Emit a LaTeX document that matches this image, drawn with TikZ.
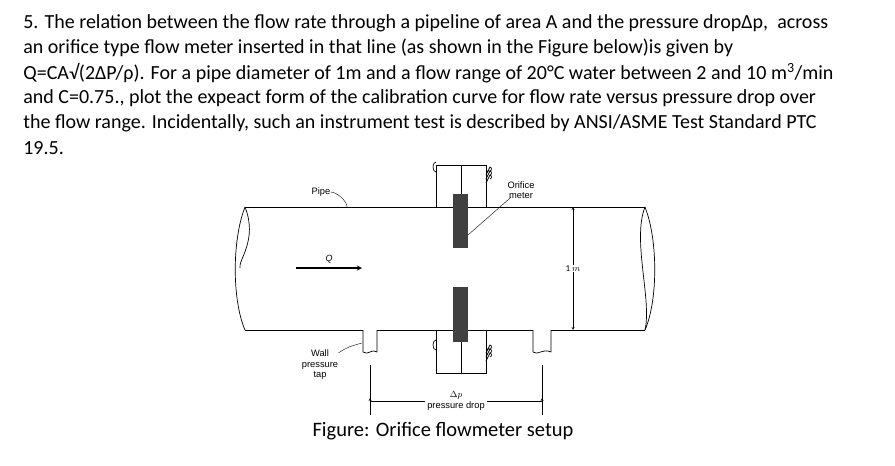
\documentclass[tikz,border=0pt]{standalone}
\usepackage{fontspec}
\setmainfont{Carlito}
\newfontfamily\lbl{Liberation Sans}
\usetikzlibrary{positioning}
\tikzset{
  para/.style={anchor=west,inner sep=0pt,font=\fontsize{20}{22}\selectfont},
  tag/.style={inner sep=0pt,font=\lbl\fontsize{9.3}{10.5}\selectfont,align=center},
  dim/.style={thin,<->,>=stealth},
}
\begin{document}
\begin{tikzpicture}[x=1pt,y=-1pt,line width=0.7pt]
\useasboundingbox (0,0) rectangle (895,466);
% problem text
\node[para] (l1) at (23,23) {5. The relation between the flow rate through a pipeline of area A and the pressure dropΔp,\ \ across};
\node[para] (l2) at (23,48) {an orifice type flow meter inserted in that line (as shown in the Figure below)is given by};
\node[para] (l3) at (23,73) {Q=CA√(2ΔP/ρ). For a pipe diameter of 1m and a flow range of 20°C water between 2 and 10 m\textsuperscript{3}/min};
\node[para] (l4) at (23,98) {and C=0.75., plot the expeact form of the calibration curve for flow rate versus pressure drop over};
\node[para] (l5) at (23,123) {the flow range. Incidentally, such an instrument test is described by ANSI/ASME Test Standard PTC};
\node[para] (l6) at (23,148) {19.5.};

% pipe
\draw (245,207) -- (436,207) (486,207) -- (645,207);
\draw (245,330) -- (363,330) (377,330) -- (436,330) (486,330) -- (533,330) (551,330) -- (645,330);
% broken ends
\draw (245,207) .. controls (232,240) and (232,300) .. (245,330);
\draw (245,207) .. controls (258,240) and (238,260) .. (240,268);
\draw (645,207) .. controls (632,240) and (652,300) .. (645,330);
\draw (645,207) .. controls (658,240) and (658,300) .. (645,330);
% flanges
\draw (436,165) rectangle (486,207) (461,165) -- (461,207);
\draw (436,330) rectangle (486,373) (461,330) -- (461,373);
\foreach \y in {177,355}{
  \draw (436,\y-5) arc (90:270:3 and 5);
  \draw (486,\y-6) -- (490,\y-6) arc (90:-90:1.5 and 2) -- (486,\y-2)
        (490,\y-2) arc (90:-90:1.5 and 2) -- (486,\y+2)
        (490,\y+2) arc (90:-90:1.5 and 2) -- (486,\y+6);
}
% orifice plates
\fill[black!75] (453,194) rectangle (468,248);
\fill[black!75] (453,287) rectangle (468,342);
% taps
\draw (363,330) -- (363,352) .. controls (368,356) and (372,348) .. (377,352) -- (377,330);
\draw (533,330) -- (533,352) .. controls (538,356) and (542,348) .. (551,352) -- (551,330);

% flow arrow
\coordinate (qa) at (296,268);
\coordinate (qb) at (362,268);
\draw[->,>=stealth,line width=1.3pt] (qa) -- (qb);
\node[tag,font=\itshape\lbl\fontsize{9}{10}\selectfont] (q) at (329,259) {Q};

% labels
\node[tag] (pipe) at (321,192) {Pipe};
\coordinate (pipept) at (347,207);
\draw[thin] (pipe.east) .. controls +(6,0) and +(0,-6) .. (pipept);
\node[tag] (orifice) at (521,190) {Orifice\\meter};
\coordinate (platept) at (468,235);
\draw[thin] (orifice.south west) ++(4,-2) -- (platept);
\node[tag] (wall) at (320,365) {Wall\\pressure\\tap};
\coordinate (tappt) at (362,343);
\draw[thin] (wall.north east) ++(0,3) .. controls +(10,-6) .. (tappt);

% dimension 1 m
\coordinate (mt) at (573,207);
\coordinate (mb) at (573,330);
\draw[dim] (mt) -- node[fill=white,inner sep=1pt,font=\fontsize{9}{10}\selectfont] (dia) {1 $m$} (mb);

% pressure drop dimension
\draw[thin] (370,365) -- (370,415) (542,365) -- (542,415);
\coordinate (pl) at (370,398);
\coordinate (pr) at (542,398);
\node[tag] (dp) at (456,401) {$\Delta p$\\pressure drop};
\draw[thin,->,>=stealth] (dp.west) ++(-2,0) -| (pl) ;
\draw[thin,->,>=stealth] (dp.east) ++(2,0) -| (pr);

% caption
\node[inner sep=0pt,font=\fontsize{20.5}{22}\selectfont] (cap) at (443,431) {Figure: Orifice flowmeter setup};
\end{tikzpicture}
\end{document}
